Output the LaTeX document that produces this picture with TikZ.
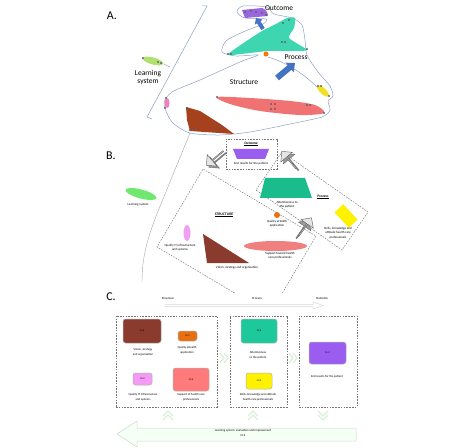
\documentclass[tikz,border=0pt]{standalone}
\usepackage{fontspec}
\setmainfont{Carlito}
\usetikzlibrary{arrows.meta,shapes.geometric,shapes.arrows}
\definecolor{outl}{HTML}{8EA0C4}
\definecolor{ablue}{HTML}{4472C4}
\definecolor{amint}{HTML}{3DD6B0}
\definecolor{apurple}{HTML}{9966DD}
\definecolor{ared}{HTML}{F07272}
\definecolor{arust}{HTML}{A5411C}
\definecolor{apink}{HTML}{F080C0}
\definecolor{ayellow}{HTML}{F0E020}
\definecolor{alime}{HTML}{B0E070}
\definecolor{bteal}{HTML}{1ABC8C}
\definecolor{bpurple}{HTML}{9B5CF0}
\definecolor{bbrown}{HTML}{8B3A2E}
\definecolor{bred}{HTML}{F08080}
\definecolor{bpink}{HTML}{F0A0F0}
\definecolor{borange}{HTML}{E87010}
\definecolor{bgreen}{HTML}{70E870}
\definecolor{cteal}{HTML}{1DC99A}
\definecolor{cyellow}{HTML}{FFF200}
\definecolor{cred}{HTML}{FF7A7A}
\definecolor{cpink}{HTML}{F59AF5}
\definecolor{cchev}{HTML}{D8F0D8}
\tikzset{
  tinytext/.style={font=\fontsize{3.2}{4.2}\selectfont, align=center, inner sep=0},
  dashbox/.style={draw=black!55, line width=0.45, dash pattern=on 1.6 off 1.2},
  garrow/.style={single arrow, draw=black!65, fill=black!10, line width=0.4,
    minimum height=22bp, minimum width=15bp, single arrow head extend=2.5bp,
    single arrow head indent=0bp, inner sep=0},
  gshade/.style={garrow, fill=black!40, draw=black!60},
  cbox/.style={rounded corners=2.5, draw=white!70!black, line width=0.5,
    font=\fontsize{2.6}{3}\selectfont, inner sep=0},
  chev/.style={draw=cchev, line width=1.3},
  seed/.style={circle, fill=black!35, draw=black!80, line width=0.15, inner sep=0, minimum size=1.6bp}
}
\begin{document}
\begin{tikzpicture}[x=1bp,y=-1bp]
\useasboundingbox (0,0) rectangle (474,448);

\node[font=\fontsize{12}{14}\selectfont] (labA) at (112,16) {A.};
\node[font=\fontsize{12}{14}\selectfont] (labB) at (111,156) {B.};
\node[font=\fontsize{12}{14}\selectfont] (labC) at (111,297) {C.};

\draw[outl, line width=0.5] plot[smooth cycle, tension=0.45] coordinates {
  (190,133) (172,122) (164,104) (172,92) (200,80) (240,62) (258,55) (236,56)
  (222,52) (226,41) (243,32) (263,24) (266,19) (245,18) (237,12) (243,6)
  (266,7) (274,14) (292,18) (302,25) (305,40) (307,55) (318,72) (330,86)
  (333,96) (328,101) (330,110) (322,117) (290,124) (250,132) (220,135)};
\draw[outl, line width=0.5] (268,57) .. controls (288,63) and (305,75) .. (318,88);
\draw[outl, line width=0.5] (202,6) -- (207,6) -- (147,117) -- (152,119);
\coordinate (brk) at (170,67);

\fill[amint] plot[smooth cycle, tension=0.35] coordinates {
  (228,54) (245,42) (262,31) (276,24) (287,18) (295,18) (294,28) (289,38)
  (307,50) (290,51) (268,51) (250,53) (232,55)};
\fill[apurple] (242,10) -- (262,8) .. controls (266,9) and (268,13) .. (268,16) -- (245,18) -- cycle;
\fill[ared] plot[smooth cycle, tension=0.5] coordinates {
  (217,97) (250,98) (290,101) (315,105) (324,113) (300,115) (260,111) (230,104)};
\fill[arust] (186,107) -- (200,111) -- (222,125) -- (234,134) -- (190,131) -- (187,120) -- cycle;
\node[ellipse, fill=apink, minimum width=5bp, minimum height=10bp, inner sep=0] (apinkleaf) at (167,103) {};
\node[ellipse, fill=ayellow, minimum width=15bp, minimum height=6bp, inner sep=0, rotate=-43] (ayel) at (323,91) {};
\node[ellipse, fill=alime, minimum width=21bp, minimum height=7bp, inner sep=0, rotate=-15] (alearn) at (153,61) {};
\draw[outl, line width=0.5] (alearn.east) -- (brk);
\node[circle, fill=orange!90!red, inner sep=0, minimum size=5bp] (aorange) at (266,54) {};

\foreach \p in {(245,12),(251,11),(256,12),(262,13),(266,15),(228,54),(231,54),(283,23),(289,20),
  (282,42),(285,42),(307,49),(217,97),(271,104),(275,104),(271,109),(275,109),(307,105),(310,105),
  (324,113),(187,108),(215,124),(222,127),(217,132),(190,130),(193,130),(166,98),(165,108),
  (318,86),(321,86),(329,96),(143,58),(158,62),(161,63)}
  \node[seed] at \p {};

\draw[ablue, line width=4, -{Triangle[length=5bp,width=9bp]}] (263,29) -- (256,18);
\draw[ablue, line width=6, -{Triangle[length=7bp,width=12bp]}] (277,78) -- (295,63);

\node[font=\fontsize{7.5}{9}\selectfont] (aout) at (279,8) {Outcome};
\node[font=\fontsize{7.5}{9}\selectfont] (aproc) at (296,57) {Process};
\node[font=\fontsize{7.5}{9}\selectfont] (astruc) at (244,82) {Structure};
\node[font=\fontsize{7.5}{9}\selectfont, align=center] (alearntxt) at (148,77.5) {Learning\\[-1pt]system};

\draw[black!35, line width=0.4] (190,133) -- (163,199) .. controls (148,235) and (142,255) .. (142,282);

\node[dashbox, minimum width=51bp, minimum height=30bp] (outbox) at (251.5,154) {};
\draw[dashbox] (282,152) -- (368,212) -- (342,250) -- (256,190) -- cycle;
\draw[dashbox] (234.6,293) -- (157,247) -- (203,169) -- (316,236) -- (282.4,293);

\node[tinytext, font=\bfseries\itshape\fontsize{3.6}{4}\selectfont] (bout) at (251,144) {\underline{Outcome}};
\fill[bpurple] (233,149) -- (269,149) -- (265,159) -- (237,159) -- cycle;
\node[tinytext] (bouttxt) at (251,164) {End results for the patient};

\fill[bteal] (265,178) -- (305,178) -- (312,198) -- (260,198) -- cycle;
\node[tinytext] (batt) at (287,205) {Attentiveness to\\the patient};
\node[tinytext, font=\bfseries\itshape\fontsize{3.6}{4}\selectfont] (bproc) at (323,197) {\underline{Process}};
\node[rectangle, fill=yellow, minimum width=21bp, minimum height=12bp, inner sep=0, rotate=-47] (byel) at (346,216) {};
\node[tinytext] (bskill) at (338,233) {Skills, knowledge and\\attitude health care\\professionals};

\node[tinytext, font=\bfseries\itshape\fontsize{3.8}{4}\selectfont] (bstruc) at (224,215) {\underline{STRUCTURE}};
\node[circle, fill=borange, inner sep=0, minimum size=6bp] (borg) at (277,215) {};
\node[tinytext] (bqual) at (277,224) {Quality eHealth\\application};
\node[ellipse, fill=bpink, minimum width=7bp, minimum height=16bp, inner sep=0] (bpinkleaf) at (187,233) {};
\node[tinytext] (bit) at (180,248) {Quality IT infrastructure\\and systems};
\fill[bbrown] (203,234) -- (207,263) -- (249,263) -- cycle;
\node[tinytext] (bvis) at (237,268) {Vision, strategy and organisation};
\node[ellipse, fill=bred, minimum width=63bp, minimum height=10bp, inner sep=0] (bredleaf) at (275.5,246) {};
\node[tinytext] (bsup) at (280,256) {Support toward health\\care professionals};
\node[ellipse, fill=bgreen, minimum width=32bp, minimum height=9bp, inner sep=0, rotate=-15] (blearn) at (141,194) {};
\node[tinytext] (blearntxt) at (138,205) {Learning system};

\node[gshade, rotate=220] (g1s) at (217.5,160) {};
\node[garrow, rotate=220] (g1) at (215,158) {};
\node[gshade, rotate=130] (g2s) at (291.5,162) {};
\node[garrow, rotate=130] (g2) at (289,160) {};
\node[gshade, rotate=55] (g3s) at (302.5,229.5) {};
\node[garrow, rotate=55] (g3) at (305,227) {};

\node[tinytext] (cstruc) at (168,298) {Structure};
\node[tinytext] (cproc) at (257,298) {Process};
\node[tinytext] (cout) at (322,298) {Outcome};
\draw[black!15, fill=white, line width=0.5] (165,304.5) -- (313,304.5) -- (313,302) -- (323,305.5)
  -- (313,309) -- (313,306.5) -- (165,306.5) -- cycle;

\node[dashbox, minimum width=101bp, minimum height=91bp] (cstrucbox) at (166.5,361.5) {};
\node[dashbox, minimum width=57bp, minimum height=91bp] (cprocbox) at (258.5,361.5) {};
\node[dashbox, minimum width=58bp, minimum height=91bp] (coutbox) at (328,361.5) {};

\begin{scope}[every node/.style={cbox}]
  \node[fill=bbrown, minimum width=38bp, minimum height=24bp] (cvis) at (142,331) {N=6};
  \node[fill=borange, minimum width=19bp, minimum height=10bp] (cehl) at (187.5,336) {N=1};
  \node[fill=cpink, minimum width=19bp, minimum height=12bp] (cit) at (142.5,379) {N=2};
  \node[fill=cred, minimum width=36bp, minimum height=23bp] (csup) at (191,379.5) {N=6};
  \node[fill=cteal, minimum width=36bp, minimum height=24bp] (catt) at (259,331) {N=6};
  \node[fill=cyellow, minimum width=26bp, minimum height=16bp] (cskill) at (259,381) {N=3};
  \node[fill=bpurple, minimum width=37bp, minimum height=22bp] (cend) at (327.5,353) {N=4};
\end{scope}

\begin{scope}[every node/.style={tinytext, font=\fontsize{3}{5}\selectfont}]
  \node (cvistxt) at (143,352.5) {Vision, strategy\\and organization};
  \node (cehltxt) at (187,350.5) {Quality eHealth\\application};
  \node (cittxt) at (143,397.5) {Quality IT infrastructure\\and systems};
  \node (csuptxt) at (191,397.5) {Support of health care\\professionals};
  \node (catttxt) at (258,355) {Attentiveness\\to the patient};
  \node (cskilltxt) at (258,397.5) {Skills, knowledge and attitude\\health care professionals};
  \node (cendtxt) at (327,377) {End results for the patient};
\end{scope}

\foreach \cx in {224,293} {
  \draw[chev] (\cx-4,353) -- (\cx,358) -- (\cx-4,363);
  \draw[chev] (\cx,353) -- (\cx+4,358) -- (\cx,363);
}
\foreach \cx in {168,253} {
  \draw[chev] (\cx-5,416) -- (\cx,411) -- (\cx+5,416);
  \draw[chev] (\cx-5,420) -- (\cx,415) -- (\cx+5,420);
}
\draw[chev] (318,411) -- (323,416) -- (328,411);
\draw[chev] (318,415) -- (323,420) -- (328,415);

\draw[draw=cchev!80!black!60, fill=green!4, line width=0.5] (356,428) -- (137,428) -- (137,421)
  -- (117,434) -- (137,447) -- (137,441) -- (356,441) -- cycle;
\node[tinytext, font=\fontsize{3}{4.5}\selectfont] (clearn) at (243,433) {Learning system: evaluation and improvement\\N=2};

\end{tikzpicture}
\end{document}
